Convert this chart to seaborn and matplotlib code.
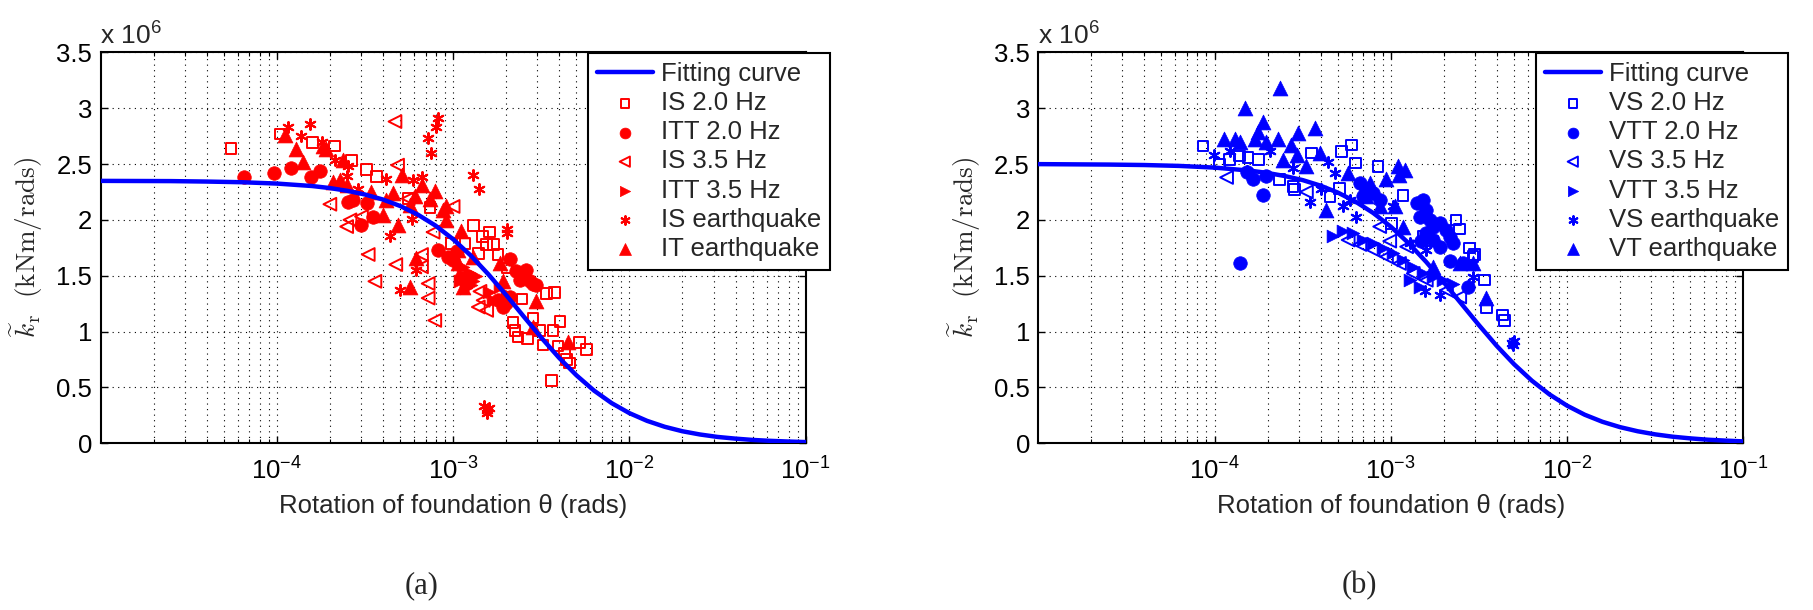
import numpy as np
import matplotlib
matplotlib.use("Agg")
import matplotlib.pyplot as plt
import matplotlib.ticker as mticker
import seaborn as sns

# ---------------- data (theta in rads, k in 10^6 kNm/rad) ----------------
fit_log10_theta = [-5.0, -4.8, -4.6, -4.4, -4.2, -4.0, -3.8, -3.7, -3.6, -3.5, -3.4, -3.3,
                   -3.2, -3.1, -3.0, -2.9, -2.8, -2.7, -2.6, -2.5, -2.4, -2.3, -2.2, -2.1,
                   -2.0, -1.9, -1.8, -1.7, -1.6, -1.5, -1.4, -1.3, -1.2, -1.1, -1.0]
fit_a_k = [2.349, 2.348, 2.347, 2.343, 2.337, 2.325, 2.303, 2.285, 2.260, 2.227, 2.183, 2.124,
           2.047, 1.949, 1.827, 1.681, 1.513, 1.329, 1.136, 0.946, 0.767, 0.608, 0.471, 0.359,
           0.270, 0.201, 0.148, 0.108, 0.079, 0.057, 0.042, 0.030, 0.022, 0.016, 0.011]
fit_b_k = [2.499, 2.497, 2.495, 2.491, 2.483, 2.468, 2.441, 2.420, 2.392, 2.356, 2.307, 2.244,
           2.163, 2.062, 1.939, 1.793, 1.625, 1.442, 1.250, 1.058, 0.874, 0.707, 0.561, 0.438,
           0.337, 0.256, 0.193, 0.145, 0.108, 0.080, 0.059, 0.044, 0.032, 0.024, 0.017]

# panel (a)
is2_theta = [5.5e-5, 1.05e-4, 1.59e-4, 2.13e-4, 2.65e-4, 3.23e-4, 3.68e-4, 5.56e-4, 7.38e-4, 9.79e-4,
             1.17e-3, 1.31e-3, 1.61e-3, 1.47e-3, 1.55e-3, 1.69e-3, 1.80e-3, 1.39e-3, 2.02e-3, 2.46e-3,
             3.39e-3, 3.77e-3, 2.19e-3, 2.24e-3, 2.34e-3, 2.64e-3, 2.84e-3, 3.10e-3, 3.24e-3, 3.69e-3,
             4.03e-3, 3.94e-3, 4.30e-3, 4.59e-3, 5.23e-3, 5.70e-3, 3.61e-3, 4.40e-3]
is2_k = [2.64, 2.77, 2.69, 2.66, 2.53, 2.45, 2.39, 2.19, 2.11, 1.79,
         1.79, 1.95, 1.89, 1.85, 1.78, 1.78, 1.69, 1.70, 1.57, 1.29,
         1.34, 1.35, 1.08, 1.01, 0.95, 0.94, 1.12, 1.01, 0.88, 1.01,
         1.09, 0.87, 0.81, 0.72, 0.90, 0.84, 0.56, 0.75]

itt2_theta = [6.5e-5, 9.6e-5, 1.21e-4, 1.57e-4, 1.75e-4, 2.54e-4, 2.71e-4, 3.23e-4, 3.02e-4, 3.52e-4,
              8.22e-4, 9.37e-4, 1.0e-3, 1.11e-3, 1.19e-3, 2.09e-3, 2.28e-3, 2.49e-3, 2.72e-3, 2.84e-3,
              2.09e-3, 1.92e-3, 1.80e-3, 2.39e-3, 2.60e-3, 2.95e-3, 1.05e-3, 2.00e-3]
itt2_k = [2.38, 2.42, 2.46, 2.38, 2.44, 2.16, 2.18, 2.15, 1.95, 2.03,
          1.73, 1.67, 1.64, 1.48, 1.49, 1.65, 1.54, 1.52, 1.45, 1.43,
          1.31, 1.22, 1.28, 1.46, 1.55, 1.42, 1.72, 1.26]

is35_theta = [4.68e-4, 4.84e-4, 2.0e-4, 2.49e-4, 2.60e-4, 3.02e-4, 3.30e-4, 4.73e-4, 3.6e-4, 7.87e-4,
              7.22e-4, 7.22e-4, 6.62e-4, 6.62e-4, 5.56e-4, 1.0e-3, 1.42e-3, 1.48e-3, 1.55e-3, 1.39e-3,
              7.7e-4]
is35_k = [2.88, 2.49, 2.14, 1.94, 2.00, 2.03, 1.69, 1.60, 1.45, 1.10,
          1.30, 1.43, 1.58, 1.69, 2.19, 2.12, 1.36, 1.28, 1.19, 1.22,
          1.89]

itt35_theta = [1.09e-3, 1.19e-3, 1.30e-3, 1.24e-3, 1.14e-3, 1.84e-3, 2.01e-3, 1.69e-3, 1.35e-3, 1.27e-3, 1.60e-3]
itt35_k = [1.45, 1.39, 1.45, 1.52, 1.58, 1.40, 1.34, 1.28, 1.50, 1.42, 1.35]

iseq_theta = [1.16e-4, 1.54e-4, 1.37e-4, 1.80e-4, 2.13e-4, 2.54e-4, 2.51e-4, 2.90e-4, 4.19e-4, 4.38e-4,
              5.93e-4, 6.62e-4, 5.81e-4, 8.22e-4, 8.05e-4, 7.22e-4, 7.48e-4, 1.30e-3, 1.40e-3, 2.01e-3,
              2.03e-3, 4.99e-4, 6.2e-4, 1.50e-3, 1.55e-3, 1.60e-3, 1.55e-3]
iseq_k = [2.83, 2.86, 2.75, 2.70, 2.54, 2.48, 2.39, 2.28, 2.37, 1.86,
          2.36, 2.38, 2.01, 2.91, 2.83, 2.73, 2.60, 2.40, 2.28, 1.92,
          1.88, 1.37, 1.55, 0.33, 0.30, 0.32, 0.27]

iteq_theta = [1.11e-4, 1.28e-4, 1.40e-4, 1.83e-4, 1.91e-4, 2.38e-4, 2.09e-4, 2.28e-4, 2.49e-4, 3.44e-4,
              3.98e-4, 4.88e-4, 5.1e-4, 6.7e-4, 7.87e-4, 7.38e-4, 8.79e-4, 9.17e-4, 1.11e-3, 6.06e-4,
              5.69e-4, 4.57e-4, 4.19e-4, 6.15e-4, 1.07e-3, 1.07e-3, 1.14e-3, 1.30e-3, 1.84e-3, 1.92e-3,
              2.97e-3, 2.84e-3, 4.49e-3, 5.69e-4, 9.17e-4]
iteq_k = [2.76, 2.63, 2.52, 2.66, 2.63, 2.54, 2.34, 2.36, 2.31, 2.25,
          2.04, 1.95, 2.40, 2.31, 2.26, 2.19, 2.09, 2.00, 1.90, 2.21,
          2.13, 2.24, 2.18, 1.66, 1.73, 1.61, 1.40, 1.67, 1.61, 1.45,
          1.27, 1.04, 0.91, 1.40, 2.12]

# panel (b)
vs2_theta = [8.6e-5, 1.07e-4, 1.22e-4, 1.39e-4, 1.55e-4, 1.77e-4, 2.34e-4, 2.79e-4, 2.85e-4, 3.55e-4,
             5.25e-4, 5.97e-4, 6.32e-4, 4.51e-4, 5.13e-4, 8.47e-4, 1.17e-3, 1.01e-3, 1.52e-3, 1.73e-3,
             2.35e-3, 2.46e-3, 2.80e-3, 2.92e-3, 3.40e-3, 3.48e-3, 2.99e-3, 4.30e-3, 4.42e-3]
vs2_k = [2.66, 2.50, 2.54, 2.57, 2.56, 2.54, 2.36, 2.30, 2.27, 2.60,
         2.61, 2.67, 2.51, 2.21, 2.28, 2.48, 2.22, 1.97, 1.85, 1.81,
         2.00, 1.92, 1.75, 1.67, 1.46, 1.21, 1.69, 1.15, 1.10]

vtt2_theta = [1.39e-4, 1.89e-4, 1.66e-4, 1.52e-4, 1.97e-4, 1.40e-3, 1.52e-3, 1.59e-3, 1.46e-3, 1.66e-3,
              1.73e-3, 1.89e-3, 2.07e-3, 2.16e-3, 2.25e-3, 1.73e-3, 1.89e-3, 1.59e-3, 6.66e-4, 7.27e-4,
              7.94e-4, 6.97e-4, 8.65e-4, 1.49e-3, 2.16e-3, 2.57e-3, 2.74e-3]
vtt2_k = [1.61, 2.22, 2.37, 2.43, 2.39, 2.15, 2.18, 2.09, 2.03, 2.00,
          1.94, 1.97, 1.91, 1.85, 1.79, 1.82, 1.76, 1.88, 2.33, 2.28,
          2.24, 2.21, 2.18, 1.81, 1.63, 1.61, 1.40]

vs35_theta = [1.17e-4, 3.32e-4, 5.73e-4, 6.67e-4, 7.94e-4, 9.45e-4, 1.12e-3, 1.34e-3, 1.59e-3, 2.07e-3,
              2.46e-3, 8.65e-4, 9.86e-4, 1.23e-3]
vs35_k = [2.38, 2.25, 1.82, 1.78, 1.73, 1.67, 1.61, 1.52, 1.46, 1.37,
          1.31, 1.94, 1.81, 1.76]

vtt35_theta = [4.71e-4, 5.36e-4, 6.1e-4, 6.97e-4, 7.94e-4, 9.04e-4, 1.03e-3, 1.17e-3, 1.34e-3, 1.52e-3,
               1.73e-3, 1.98e-3, 2.25e-3, 1.28e-3, 1.46e-3]
vtt35_k = [1.86, 1.90, 1.88, 1.82, 1.79, 1.75, 1.70, 1.64, 1.58, 1.52,
           1.49, 1.46, 1.43, 1.46, 1.40]

vseq_theta = [9.9e-5, 1.22e-4, 1.52e-4, 2.07e-4, 2.79e-4, 3.47e-4, 4.04e-4, 4.40e-4, 4.81e-4, 5.36e-4,
              5.85e-4, 6.38e-4, 1.03e-3, 1.28e-3, 1.59e-3, 1.56e-3, 1.89e-3, 2.92e-3, 4.90e-3, 5.00e-3,
              4.95e-3]
vseq_k = [2.58, 2.62, 2.44, 2.62, 2.46, 2.16, 2.28, 2.52, 2.42, 2.12,
          2.18, 2.03, 2.12, 1.79, 1.73, 1.36, 1.33, 1.49, 0.90, 0.92,
          0.88]

vteq_theta = [1.49e-4, 2.34e-4, 1.13e-4, 1.30e-4, 1.39e-4, 1.69e-4, 1.89e-4, 1.77e-4, 1.97e-4, 2.30e-4,
              2.98e-4, 3.70e-4, 2.73e-4, 2.92e-4, 2.45e-4, 3.95e-4, 3.32e-4, 4.31e-4, 5.73e-4, 7.59e-4,
              9.44e-4, 1.10e-3, 1.12e-3, 1.20e-3, 1.05e-3, 1.17e-3, 3.48e-3, 7.27e-4, 8.65e-4, 1.73e-3,
              2.46e-3, 2.92e-3]
vteq_k = [3.00, 3.18, 2.72, 2.72, 2.70, 2.72, 2.88, 2.79, 2.70, 2.72,
          2.78, 2.82, 2.67, 2.58, 2.54, 2.60, 2.48, 2.09, 2.42, 2.33,
          2.37, 2.48, 2.40, 2.45, 2.12, 1.94, 1.30, 2.21, 2.12, 1.58,
          1.61, 1.61]

labels_a = ["IS 2.0 Hz", "ITT 2.0 Hz", "IS 3.5 Hz", "ITT 3.5 Hz", "IS earthquake", "IT earthquake"]
labels_b = ["VS 2.0 Hz", "VTT 2.0 Hz", "VS 3.5 Hz", "VTT 3.5 Hz", "VS earthquake", "VT earthquake"]
x_tick_values = [1e-4, 1e-3, 1e-2, 1e-1]
y_tick_values = [0, 0.5e6, 1.0e6, 1.5e6, 2.0e6, 2.5e6, 3.0e6, 3.5e6]

# ---------------- style ----------------
sns.set_style("white")
plt.rcParams['font.family'] = ['Liberation Sans', 'DejaVu Sans']
plt.rcParams['mathtext.fontset'] = 'dejavusans'
plt.rcParams['axes.unicode_minus'] = True

RED = '#FF0000'
BLUE = '#0000FF'
FS = 18.5

W, H = 1813, 610
fig = plt.figure(figsize=(W / 100, H / 100), dpi=100)
fig.patch.set_facecolor('white')

ax_a = fig.add_axes([100.5 / W, 1 - 443.3 / H, 705.2 / W, 391.0 / H])
ax_b = fig.add_axes([1038.3 / W, 1 - 443.3 / H, 705.0 / W, 391.0 / H])

M = 1e6
fit_theta = 10.0 ** np.array(fit_log10_theta)


def draw_panel(ax, color, fit_k, series, labels, legend_right_px, caption, caption_x_px):
    sns.lineplot(x=fit_theta, y=np.array(fit_k) * M, ax=ax, color=BLUE, linewidth=3.2,
                 label='Fitting curve', zorder=4, sort=False)
    (t1, k1), (t2, k2), (t3, k3), (t4, k4), (t5, k5), (t6, k6) = series
    sns.scatterplot(x=t1, y=np.array(k1) * M, ax=ax, marker='s', s=58, color=color,
                    facecolor='none', edgecolor=color, linewidth=1.4, label=labels[0], zorder=3)
    sns.scatterplot(x=t2, y=np.array(k2) * M, ax=ax, marker='o', s=95, color=color,
                    edgecolor=color, linewidth=0.5, label=labels[1], zorder=3)
    sns.scatterplot(x=t3, y=np.array(k3) * M, ax=ax, marker='<', s=85, color=color,
                    facecolor='none', edgecolor=color, linewidth=1.4, label=labels[2], zorder=3)
    sns.scatterplot(x=t4, y=np.array(k4) * M, ax=ax, marker='>', s=85, color=color,
                    edgecolor=color, linewidth=0.5, label=labels[3], zorder=3)
    sns.scatterplot(x=t5, y=np.array(k5) * M, ax=ax, marker=(6, 2, 0), s=60, color=color,
                    linewidth=1.5, label=labels[4], zorder=3)
    sns.scatterplot(x=t6, y=np.array(k6) * M, ax=ax, marker='^', s=115, color=color,
                    edgecolor=color, linewidth=0.5, label=labels[5], zorder=3)

    ax.set_xscale('log')
    ax.set_xlim(1e-5, 1e-1)
    ax.set_ylim(0, 3.5e6)
    ax.set_xticks(x_tick_values)
    ax.xaxis.set_major_formatter(mticker.LogFormatterSciNotation())
    ax.xaxis.set_minor_locator(mticker.LogLocator(base=10, subs=np.arange(2, 10), numticks=30))
    ax.xaxis.set_minor_formatter(mticker.NullFormatter())
    ax.set_yticks(y_tick_values)
    ax.yaxis.set_major_formatter(mticker.FuncFormatter(lambda v, p: f'{v / M:g}'))
    ax.yaxis.set_minor_locator(mticker.NullLocator())

    grid_kw = dict(linestyle=(0, (1, 4)), color='black', linewidth=0.8)
    ax.grid(True, which='major', axis='both', **grid_kw)
    ax.grid(True, which='minor', axis='x', **grid_kw)

    ax.tick_params(which='both', direction='in', top=True, right=True, bottom=True, left=True,
                   colors='black', labelsize=FS)
    ax.tick_params(which='major', length=5, width=1.0)
    ax.tick_params(which='minor', length=3, width=0.8)
    ax.tick_params(axis='x', which='major', pad=10)
    ax.tick_params(axis='y', which='major', pad=6)
    for sp in ax.spines.values():
        sp.set_visible(True)
        sp.set_color('black')
        sp.set_linewidth(1.5)

    ax.set_xlabel('Rotation of foundation θ (rads)', fontsize=FS, labelpad=7)
    ax.set_ylabel(r'$\widetilde{k}_{\mathrm{r}}\ \ (\mathrm{kNm/rads})$', fontsize=19.5,
                  math_fontfamily='cm', labelpad=8)
    ax.text(0.0, 1.008, r'x $\mathdefault{10^{6}}$', transform=ax.transAxes, ha='left',
            va='bottom', fontsize=19)

    handles, labs = ax.get_legend_handles_labels()
    leg = ax.legend(handles, labs, loc='upper right',
                    bbox_to_anchor=(legend_right_px / W, 1 - 53 / H),
                    bbox_transform=fig.transFigure, borderaxespad=0, fontsize=FS,
                    frameon=True, fancybox=False, edgecolor='black', framealpha=1,
                    borderpad=0.35, labelspacing=0.2, handlelength=2.2, handletextpad=0.3,
                    markerscale=0.8)
    leg.get_frame().set_linewidth(1.5)
    leg.set_zorder(10)

    fig.text(caption_x_px / W, 1 - 586 / H, caption, family=['Liberation Serif', 'DejaVu Serif'],
             fontsize=22, ha='center', va='center')


draw_panel(ax_a, RED, fit_a_k,
           [(is2_theta, is2_k), (itt2_theta, itt2_k), (is35_theta, is35_k),
            (itt35_theta, itt35_k), (iseq_theta, iseq_k), (iteq_theta, iteq_k)],
           labels_a, 830, '(a)', 422)
draw_panel(ax_b, BLUE, fit_b_k,
           [(vs2_theta, vs2_k), (vtt2_theta, vtt2_k), (vs35_theta, vs35_k),
            (vtt35_theta, vtt35_k), (vseq_theta, vseq_k), (vteq_theta, vteq_k)],
           labels_b, 1788, '(b)', 1359)

fig.savefig('out.png', dpi=100, facecolor='white')
